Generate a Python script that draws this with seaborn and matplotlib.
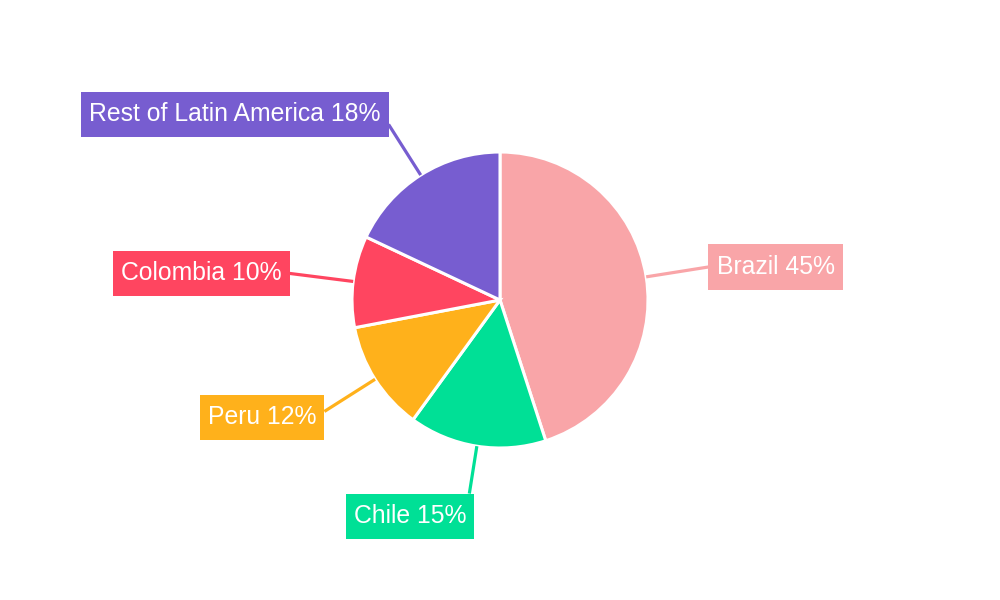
import numpy as np
import matplotlib
matplotlib.use("Agg")
import matplotlib.pyplot as plt
import seaborn as sns

categories = ["Brazil", "Chile", "Peru", "Colombia", "Rest of Latin America"]
shares = [45, 15, 12, 10, 18]
colors = ["#F9A5A8", "#00E096", "#FFB11B", "#FF4560", "#775DD0"]

sns.set_theme(style="white")
plt.rcParams["font.family"] = ["Liberation Sans", "DejaVu Sans"]

fig = plt.figure(figsize=(10, 6), dpi=100)
ax = fig.add_axes([0, 0, 1, 1])

cx, cy, R = 500, 300, 148
wedges, _ = ax.pie(shares, colors=colors, startangle=90, counterclock=False,
                   center=(cx, cy), radius=R, frame=True,
                   wedgeprops=dict(edgecolor="white", linewidth=2.2))
ax.set_xlim(0, 1000)
ax.set_ylim(0, 600)
ax.set_aspect("equal")
ax.axis("off")

# label layout: (line end radius, ha, va, dx, dy) in pixels
layout = {
    "Brazil": (211, "left", "center", 0, 0),
    "Chile": (196, "right", "top", 5, 0),
    "Peru": (208, "right", "center", 0, -6),
    "Colombia": (212, "right", "center", 0, 0),
    "Rest of Latin America": (208, "right", "center", 0, 10),
}
fs = 17.8
padf = 0.33
aspect = 1.3
pad_px = padf * fs * 100 / 72
total = sum(shares)
cum = 0
for cat, val, col in zip(categories, shares, colors):
    mid = cum + val / 2
    cum += val
    ang = np.deg2rad(90 - 360 * mid / total)
    r_end, ha, va, dx, dy = layout[cat]
    x0, y0 = cx + R * np.cos(ang), cy + R * np.sin(ang)
    x1, y1 = cx + r_end * np.cos(ang), cy + r_end * np.sin(ang)
    ax.plot([x0, x1], [y0, y1], color=col, lw=2.3, solid_capstyle="butt", zorder=1)
    tx = x1 + (pad_px if ha == "left" else -pad_px) + dx
    ty = y1 + dy
    if va == "top":
        ty = y1 - pad_px * aspect
    ax.text(tx, ty, f"{cat} {val}%", ha=ha, va=va, fontsize=fs, color="white",
            bbox=dict(boxstyle=f"square,pad={padf}", facecolor=col, edgecolor="none",
                      mutation_aspect=aspect),
            zorder=3)

fig.savefig("out.png", dpi=100)
